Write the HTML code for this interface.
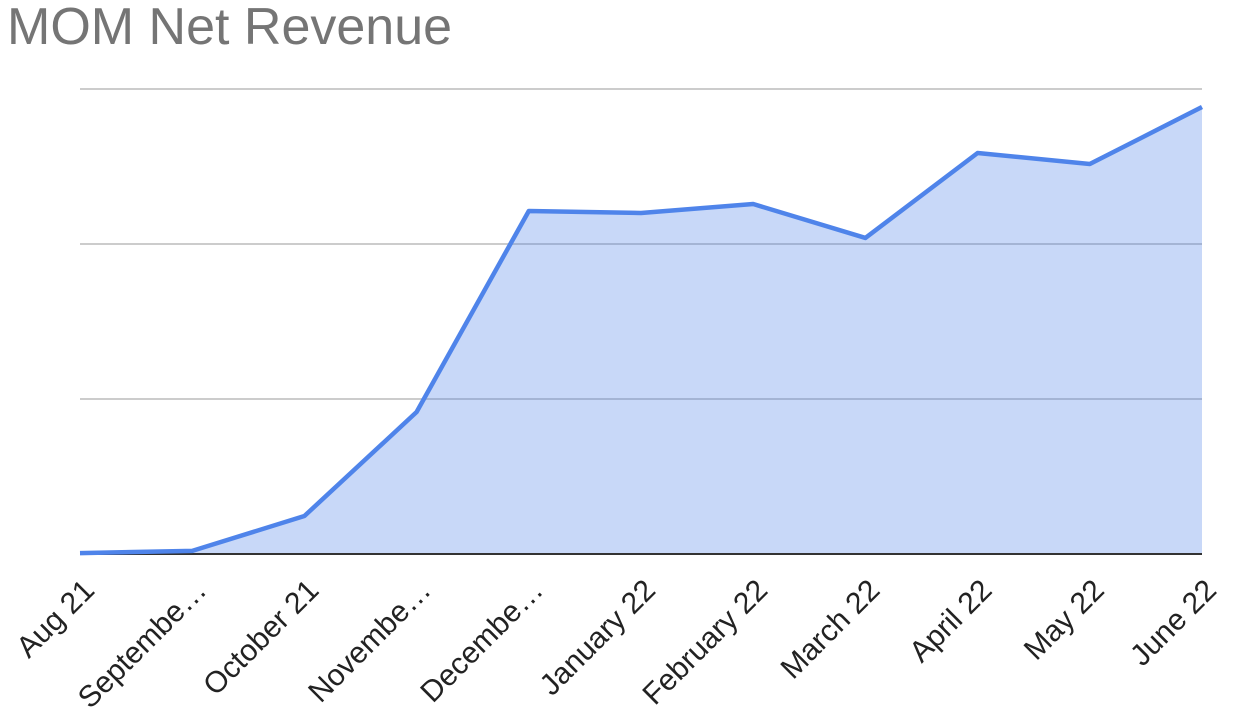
<!DOCTYPE html>
<html><head><meta charset="utf-8"><style>
html,body{margin:0;padding:0;background:#fff;width:1236px;height:724px;overflow:hidden}
svg{display:block;font-family:"Liberation Sans",Arial,sans-serif}
</style></head><body>
<svg id="chart" width="1236" height="724">
<text x="7" y="44" font-size="52" fill="#757575">MOM Net Revenue</text>
<g id="grid"></g>
<g id="area"></g>
<g id="xlabels"></g>
</svg>
<script>
const categories = ["Aug 21","Septembe…","October 21","Novembe…","Decembe…","January 22","February 22","March 22","April 22","May 22","June 22"];
const revenue = [0.006,0.02,0.245,0.916,2.213,2.2,2.258,2.039,2.587,2.516,2.884];
const gridTicks = [0,1,2,3];
const NS="http://www.w3.org/2000/svg";
const x0=80,x1=1202,y0=554,y1=89,yMax=3;
const xs=i=>x0+(x1-x0)*i/(categories.length-1);
const ys=v=>y0-(y0-y1)*v/yMax;
function mk(t,a){const e=document.createElementNS(NS,t);for(const k in a)e.setAttribute(k,a[k]);return e;}
const grid=document.getElementById('grid');
gridTicks.forEach(t=>{if(t===0)return;const l=mk('line',{x1:x0,x2:x1,y1:ys(t),y2:ys(t),stroke:'#cccccc','stroke-width':2});


grid.appendChild(l);});
const area=document.getElementById('area');
let pts=revenue.map((v,i)=>xs(i)+','+ys(v)).join(' ');
const poly=mk('polygon',{points:x0+','+y0+' '+pts+' '+x1+','+y0,fill:'#4a7fe8','fill-opacity':0.3});


area.appendChild(poly);
const base=mk('line',{x1:x0,x2:x1,y1:y0,y2:y0,stroke:'#333','stroke-width':2});


area.appendChild(base);
const line=mk('polyline',{points:pts,fill:'none',stroke:'#4f84ea','stroke-width':4.5,'stroke-linejoin':'round'});


area.appendChild(line);
const xl=document.getElementById('xlabels');
categories.forEach((c,i)=>{const x=xs(i)+16,y=592;
const t=mk('text',{x:x,y:y,'text-anchor':'end','font-size':30,fill:'#222',transform:`rotate(-45 ${x} ${y})`});
t.textContent=c;


xl.appendChild(t);});
</script>
</body></html>
